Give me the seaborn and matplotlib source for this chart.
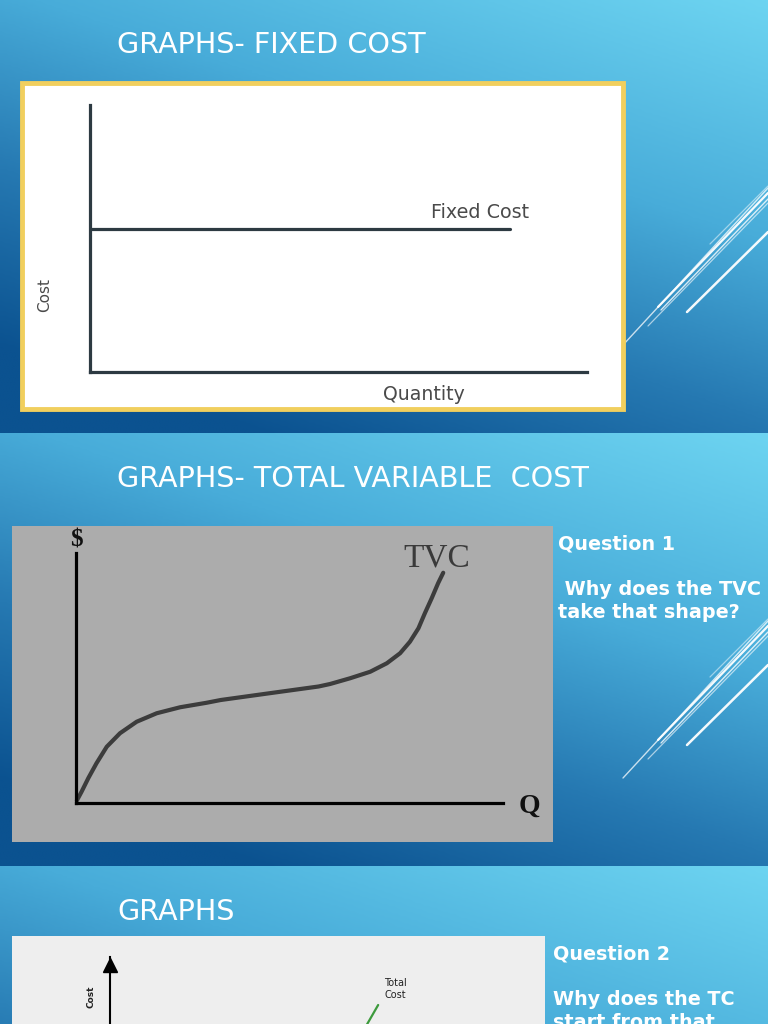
import numpy as np
import matplotlib
matplotlib.use("Agg")
import matplotlib.pyplot as plt
from matplotlib.colors import LinearSegmentedColormap
from matplotlib.patches import Rectangle
import seaborn as sns

# ---------------- data ----------------
titles = ["GRAPHS- FIXED COST", "GRAPHS- TOTAL VARIABLE  COST", "GRAPHS"]

# Slide 1: fixed cost
fc_quantity = [0, 2, 4, 6, 8, 10]
fixed_cost = [50, 50, 50, 50, 50, 50]

# Slide 2: total variable cost (S-shaped)
tvc_q = [0.02, 0.13, 0.29, 0.48, 0.72, 1.03, 1.42, 1.89, 2.44, 3.06, 3.39, 4.53,
         5.68, 5.95, 6.42, 6.89, 7.28, 7.59, 7.82, 8.02, 8.17, 8.33, 8.48, 8.60]
tvc = [1.0, 4.5, 10.0, 15.9, 22.5, 27.9, 32.5, 35.9, 38.3, 40.1, 41.2, 43.9,
       46.6, 47.6, 49.9, 52.5, 55.9, 59.9, 64.5, 69.9, 75.9, 81.9, 87.9, 92.1]

# Slide 3: total cost (only the visible fragment)
tc_q = [5.95, 6.28]
tc = [71, 80.8]

question1 = ["Question 1", "", " Why does the TVC", "take that shape?"]
question2 = ["Question 2", "", "Why does the TC", "start from that"]

# ---------------- figure ----------------
W, H = 768, 1024
sns.set_style("white")
plt.rcParams["font.family"] = ["DejaVu Sans"]

fig = plt.figure(figsize=(W / 100, H / 100), dpi=100)

def px_axes(x0, y0, x1, y1, z=2):
    ax = fig.add_axes([x0 / W, 1 - y1 / H, (x1 - x0) / W, (y1 - y0) / H])
    ax.set_zorder(z)
    ax.patch.set_alpha(0)
    return ax

bg = fig.add_axes([0, 0, 1, 1])
bg.set_xlim(0, W)
bg.set_ylim(H, 0)
bg.axis("off")

cmap = LinearSegmentedColormap.from_list(
    "slide", [(0, "#6dd4f1"), (0.4, "#48acd9"), (0.7, "#2679b2"), (1.0, "#0b5290")])

SLIDE_H = 433
slide_tops = [0, 433, 866]
n = 200
xs = np.linspace(0, 1, n)
ys = np.linspace(0, 1, n)
XX, YY = np.meshgrid(xs, ys)
T = np.clip(0.72 * YY + 0.42 * (1 - XX), 0, 1)
for s in slide_tops:
    bg.imshow(T, cmap=cmap, vmin=0, vmax=1, extent=[0, W, s + SLIDE_H, s],
              aspect="auto", interpolation="bilinear", zorder=0)

# decorative slide lines (slide-local pixel coordinates)
deco = [
    ((623, 345), (768, 188), 1.0, 0.75),
    ((658, 307), (768, 193), 1.6, 0.95),
    ((661, 310), (768, 199), 1.0, 0.8),
    ((648, 326), (768, 203), 0.9, 0.6),
    ((687, 312), (768, 232), 1.8, 0.95),
    ((710, 244), (768, 186), 0.9, 0.5),
]
for s in slide_tops[:2]:
    for (x0, y0), (x1, y1), lw, a in deco:
        bg.plot([x0, x1], [y0 + s, y1 + s], color="white", lw=lw, alpha=a,
                solid_capstyle="round", zorder=1)

# slide titles
title_y = [45, 479, 912]
for t, y in zip(titles, title_y):
    bg.text(117, y, t, color="white", fontsize=20.6, ha="left", va="center", zorder=3)

# ---------------- slide 1 ----------------
bg.add_patch(Rectangle((22, 83), 601, 326, facecolor="white", edgecolor="#f1cf5e",
                       lw=3.5, zorder=1.5))
ax1 = px_axes(90, 105, 587, 372)
sns.lineplot(x=fc_quantity, y=fixed_cost, ax=ax1, color="#2d3a42", lw=2.3)
ax1.set_xlim(0, 11.83)
ax1.set_ylim(0, 93.4)
for side in ["top", "right"]:
    ax1.spines[side].set_visible(False)
for side in ["left", "bottom"]:
    ax1.spines[side].set_color("#2d3a42")
    ax1.spines[side].set_linewidth(2.3)
ax1.set_xticks([])
ax1.set_yticks([])
bg.text(480, 213, "Fixed Cost", color="#4a4a4a", fontsize=13.8, ha="center", va="center", zorder=3)
bg.text(424, 395, "Quantity", color="#4a4a4a", fontsize=13.6, ha="center", va="center", zorder=3)
bg.text(45, 295, "Cost", color="#4a4a4a", fontsize=11, rotation=90, ha="center", va="center", zorder=3)

# ---------------- slide 2 ----------------
bg.add_patch(Rectangle((12, 526), 541, 316, facecolor="#acacac", edgecolor="none", zorder=1.5))
ax2 = px_axes(76, 553, 503, 803)
sns.lineplot(x=tvc_q, y=tvc, ax=ax2, color="#3c3c3c", lw=3)
for line in ax2.lines:
    line.set_clip_on(False)
    line.set_solid_joinstyle("round")
ax2.set_xlim(0, 10)
ax2.set_ylim(0, 100)
for side in ["top", "right"]:
    ax2.spines[side].set_visible(False)
for side in ["left", "bottom"]:
    ax2.spines[side].set_color("black")
    ax2.spines[side].set_linewidth(2.3)
ax2.set_xticks([])
ax2.set_yticks([])
bg.text(76, 540, "$", family="Liberation Serif", fontweight="bold", fontsize=18,
        color="#111111", ha="center", va="center", zorder=3)
bg.text(529, 806, "Q", family="Liberation Serif", fontweight="bold", fontsize=20,
        color="#111111", ha="center", va="center", zorder=3)
bg.text(437, 558, "TVC", family="Liberation Serif", fontsize=24,
        color="#3a3a3a", ha="center", va="center", zorder=3)

for i, line in enumerate(question1):
    bg.text(558, 534 + i * 23, line, color="white", fontsize=13.8, fontweight="bold",
            ha="left", va="top", zorder=3)

# ---------------- slide 3 ----------------
bg.add_patch(Rectangle((12, 936), 533, 200, facecolor="#eeeeee", edgecolor="none", zorder=1.5))
ax3 = px_axes(110, 957, 537, 1207)
sns.lineplot(x=tc_q, y=tc, ax=ax3, color="#3c9a3c", lw=1.6)
ax3.set_xlim(0, 10)
ax3.set_ylim(0, 100)
for side in ["top", "right", "bottom"]:
    ax3.spines[side].set_visible(False)
ax3.spines["left"].set_color("black")
ax3.spines["left"].set_linewidth(1.5)
ax3.set_xticks([])
ax3.set_yticks([])
ax3.plot([0], [97], marker="^", color="black", markersize=10, clip_on=False)
bg.text(91, 997, "Cost", color="#222222", fontsize=6.5, fontweight="bold", rotation=90,
        ha="center", va="center", zorder=3)
bg.text(395, 989, "Total\nCost", color="#222222", fontsize=7, ha="center", va="center",
        linespacing=1.2, zorder=3)

for i, line in enumerate(question2):
    bg.text(553, 944 + i * 23, line, color="white", fontsize=13.8, fontweight="bold",
            ha="left", va="top", zorder=3)

fig.savefig("out.png", dpi=100)
